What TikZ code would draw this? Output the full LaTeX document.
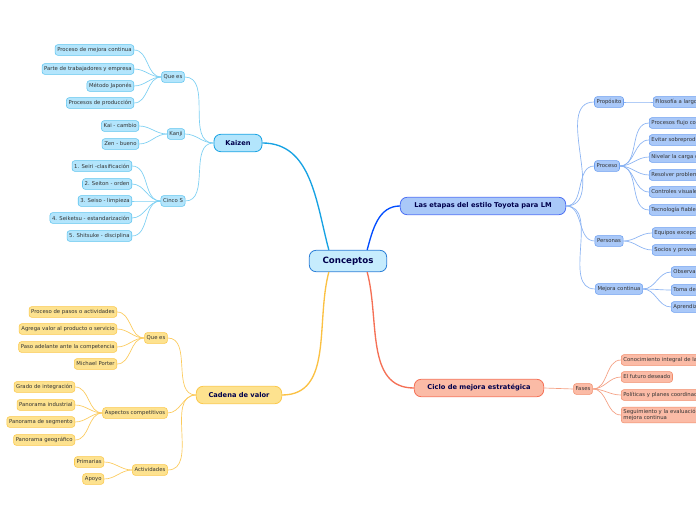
\documentclass[tikz,border=0pt]{standalone}
\usepackage{fontspec}
\setmainfont{DejaVu Sans}
\begin{document}
\begin{tikzpicture}[x=0.75pt,y=-0.75pt,
 base/.style={draw,rounded corners=2pt,inner sep=1.6pt,font=\fontsize{4}{4.6}\selectfont,minimum height=8pt,align=left,text=black!80},
 kl/.style={base,fill=kf,draw=kd},
 el/.style={base,fill=ef,draw=ed},
 cl/.style={base,fill=cf,draw=cd},
 vl/.style={base,fill=vf,draw=vd},
 mainn/.style={draw,rounded corners=5pt,line width=0.6pt,font=\fontsize{5}{6}\selectfont\bfseries,minimum height=13pt,inner xsep=5pt,text=blue!30!black},
 kc/.style={draw=kc,line width=0.5pt},
 ec/.style={draw=ec,line width=0.5pt},
 cc/.style={draw=cc,line width=0.5pt},
 vc/.style={draw=vc,line width=0.5pt}]
\definecolor{kf}{HTML}{B3E5FC}\definecolor{kd}{HTML}{5EC4EF}\definecolor{kc}{HTML}{7DD0F3}
\definecolor{ef}{HTML}{A9C8F8}\definecolor{ed}{HTML}{6B9EF0}\definecolor{ec}{HTML}{8AB3F3}
\definecolor{cf}{HTML}{FBBBA6}\definecolor{cd}{HTML}{F28C6A}\definecolor{cc}{HTML}{F5A083}
\definecolor{vf}{HTML}{FDE28F}\definecolor{vd}{HTML}{FBC84A}\definecolor{vc}{HTML}{FCCB5C}
\definecolor{cenf}{HTML}{C6ECFD}\definecolor{cend}{HTML}{2A7FD8}\definecolor{kaiL}{HTML}{16A2E3}
\useasboundingbox (0,0) rectangle (696,520);
\clip (0,0) rectangle (696,520);
\fill[white] (0,0) rectangle (696,520);
% center and main
\node[mainn,fill=cenf,draw=cend,minimum width=58pt,minimum height=16pt,font=\fontsize{6.5}{7}\selectfont\bfseries] (cen) at (348,261) {Conceptos};
\node[mainn,fill=kf,draw=kaiL,minimum width=36pt] (kai) at (238,143) {Kaizen};
\node[mainn,fill=ef,draw=ed!70!blue,minimum width=124pt] (eta) at (483,206) {Las etapas del estilo Toyota para LM};
\node[mainn,fill=cf,draw=cd!80!red,minimum width=97pt] (cic) at (479,388) {Ciclo de mejora estratégica};
\node[mainn,fill=vf,draw=vd,minimum width=64pt] (cad) at (239,395) {Cadena de valor};
\draw[line width=1pt,draw=kaiL] (cen.150) to[out=105,in=0] (kai.east);
\draw[line width=1pt,draw=blue!70!cyan] (cen.30) to[out=75,in=180] (eta.west);
\draw[line width=1pt,draw=cd!80!red] (cen.-30) to[out=-75,in=180] (cic.west);
\draw[line width=1pt,draw=vd!90!orange] (cen.-150) to[out=-105,in=0] (cad.east);
% Kaizen
\node[kl] (kq) at (173,77) {Que es};
\node[kl] (kk) at (176,134) {Kanji};
\node[kl] (ks) at (173,201) {Cinco S};
\draw[kc] (kai.west) to[out=180,in=0] (kq.east);
\draw[kc] (kai.west) to[out=180,in=0] (kk.east);
\draw[kc] (kai.west) to[out=180,in=0] (ks.east);
\node[kl,anchor=east] (k1) at (134,50) {Proceso de mejora continua};
\node[kl,anchor=east] (k2) at (134,69) {Parte de trabajadores y empresa};
\node[kl,anchor=east] (k3) at (134,86) {Método Japonés};
\node[kl,anchor=east] (k4) at (134,103) {Procesos de producción};
\foreach \c in {k1,k2,k3,k4} \draw[kc] (kq.west) to[out=180,in=0] (\c.east);
\node[kl,anchor=east] (k5) at (139,126) {Kai - cambio};
\node[kl,anchor=east] (k6) at (139,144) {Zen - bueno};
\foreach \c in {k5,k6} \draw[kc] (kk.west) to[out=180,in=0] (\c.east);
\node[kl,anchor=east] (s1) at (132,166) {1. Seiri -clasificación};
\node[kl,anchor=east] (s2) at (132,184) {2. Seiton - orden};
\node[kl,anchor=east] (s3) at (132,201) {3. Seiso - limpieza};
\node[kl,anchor=east] (s4) at (132,218) {4. Seiketsu - estandarización};
\node[kl,anchor=east] (s5) at (132,236) {5. Shitsuke - disciplina};
\foreach \c in {s1,s2,s3,s4,s5} \draw[kc] (ks.west) to[out=180,in=0] (\c.east);
% Cadena
\node[vl] (vq) at (156,338) {Que es};
\node[vl] (va) at (135,413) {Aspectos competitivos};
\node[vl] (vb) at (150,470) {Actividades};
\foreach \c in {vq,va,vb} \draw[vc] (cad.west) to[out=180,in=0] (\c.east);
\node[vl,anchor=east] (v1) at (117,312) {Proceso de pasos o actividades};
\node[vl,anchor=east] (v2) at (117,329) {Agrega valor al producto o servicio};
\node[vl,anchor=east] (v3) at (117,347) {Paso adelante ante la competencia};
\node[vl,anchor=east] (v4) at (117,364) {Michael Porter};
\foreach \c in {v1,v2,v3,v4} \draw[vc] (vq.west) to[out=180,in=0] (\c.east);
\node[vl,anchor=east] (v5) at (75,387) {Grado de integración};
\node[vl,anchor=east] (v6) at (75,405) {Panorama industrial};
\node[vl,anchor=east] (v7) at (75,422) {Panorama de segmento};
\node[vl,anchor=east] (v8) at (75,440) {Panorama geográfico};
\foreach \c in {v5,v6,v7,v8} \draw[vc] (va.west) to[out=180,in=0] (\c.east);
\node[vl,anchor=east] (v9) at (104,462) {Primarias};
\node[vl,anchor=east] (v10) at (104,479) {Apoyo};
\foreach \c in {v9,v10} \draw[vc] (vb.west) to[out=180,in=0] (\c.east);
% Etapas
\node[el] (ep) at (609,102) {Propósito};
\node[el] (epr) at (607,166) {Proceso};
\node[el] (epe) at (609,241) {Personas};
\node[el] (em) at (619,289) {Mejora continua};
\foreach \c in {ep,epr,epe,em} \draw[ec] (eta.east) to[out=0,in=180] (\c.west);
\node[el,anchor=west] (e1) at (653,102) {Filosofía a largo plazo};
\draw[ec] (ep.east) to[out=0,in=180] (e1.west);
\node[el,anchor=west] (e2) at (649,123) {Procesos flujo continuo};
\node[el,anchor=west] (e3) at (649,140) {Evitar sobreproducción};
\node[el,anchor=west] (e4) at (649,157) {Nivelar la carga de trabajo};
\node[el,anchor=west] (e5) at (649,175) {Resolver problemas};
\node[el,anchor=west] (e6) at (649,192) {Controles visuales};
\node[el,anchor=west] (e7) at (649,210) {Tecnología fiable};
\foreach \c in {e2,e3,e4,e5,e6,e7} \draw[ec] (epr.east) to[out=0,in=180] (\c.west);
\node[el,anchor=west] (e8) at (652,233) {Equipos excepcionales};
\node[el,anchor=west] (e9) at (652,250) {Socios y proveedores};
\foreach \c in {e8,e9} \draw[ec] (epe.east) to[out=0,in=180] (\c.west);
\node[el,anchor=west] (e10) at (671,272) {Observar};
\node[el,anchor=west] (e11) at (671,290) {Toma de decisiones};
\node[el,anchor=west] (e12) at (671,307) {Aprendizaje};
\foreach \c in {e10,e11,e12} \draw[ec] (em.east) to[out=0,in=180] (\c.west);
% Ciclo
\node[cl] (cf) at (583,389) {Fases};
\draw[cc] (cic.east) -- (cf.west);
\node[cl,anchor=west] (c1) at (621,360) {Conocimiento integral de la situación};
\node[cl,anchor=west] (c2) at (621,377) {El futuro deseado};
\node[cl,anchor=west] (c3) at (621,395) {Políticas y planes coordinados};
\node[cl,anchor=west] (c4) at (621,415) {Seguimiento y la evaluación de la\\mejora continua};
\foreach \c in {c1,c2,c3,c4} \draw[cc] (cf.east) to[out=0,in=180] (\c.west);
\end{tikzpicture}
\end{document}
